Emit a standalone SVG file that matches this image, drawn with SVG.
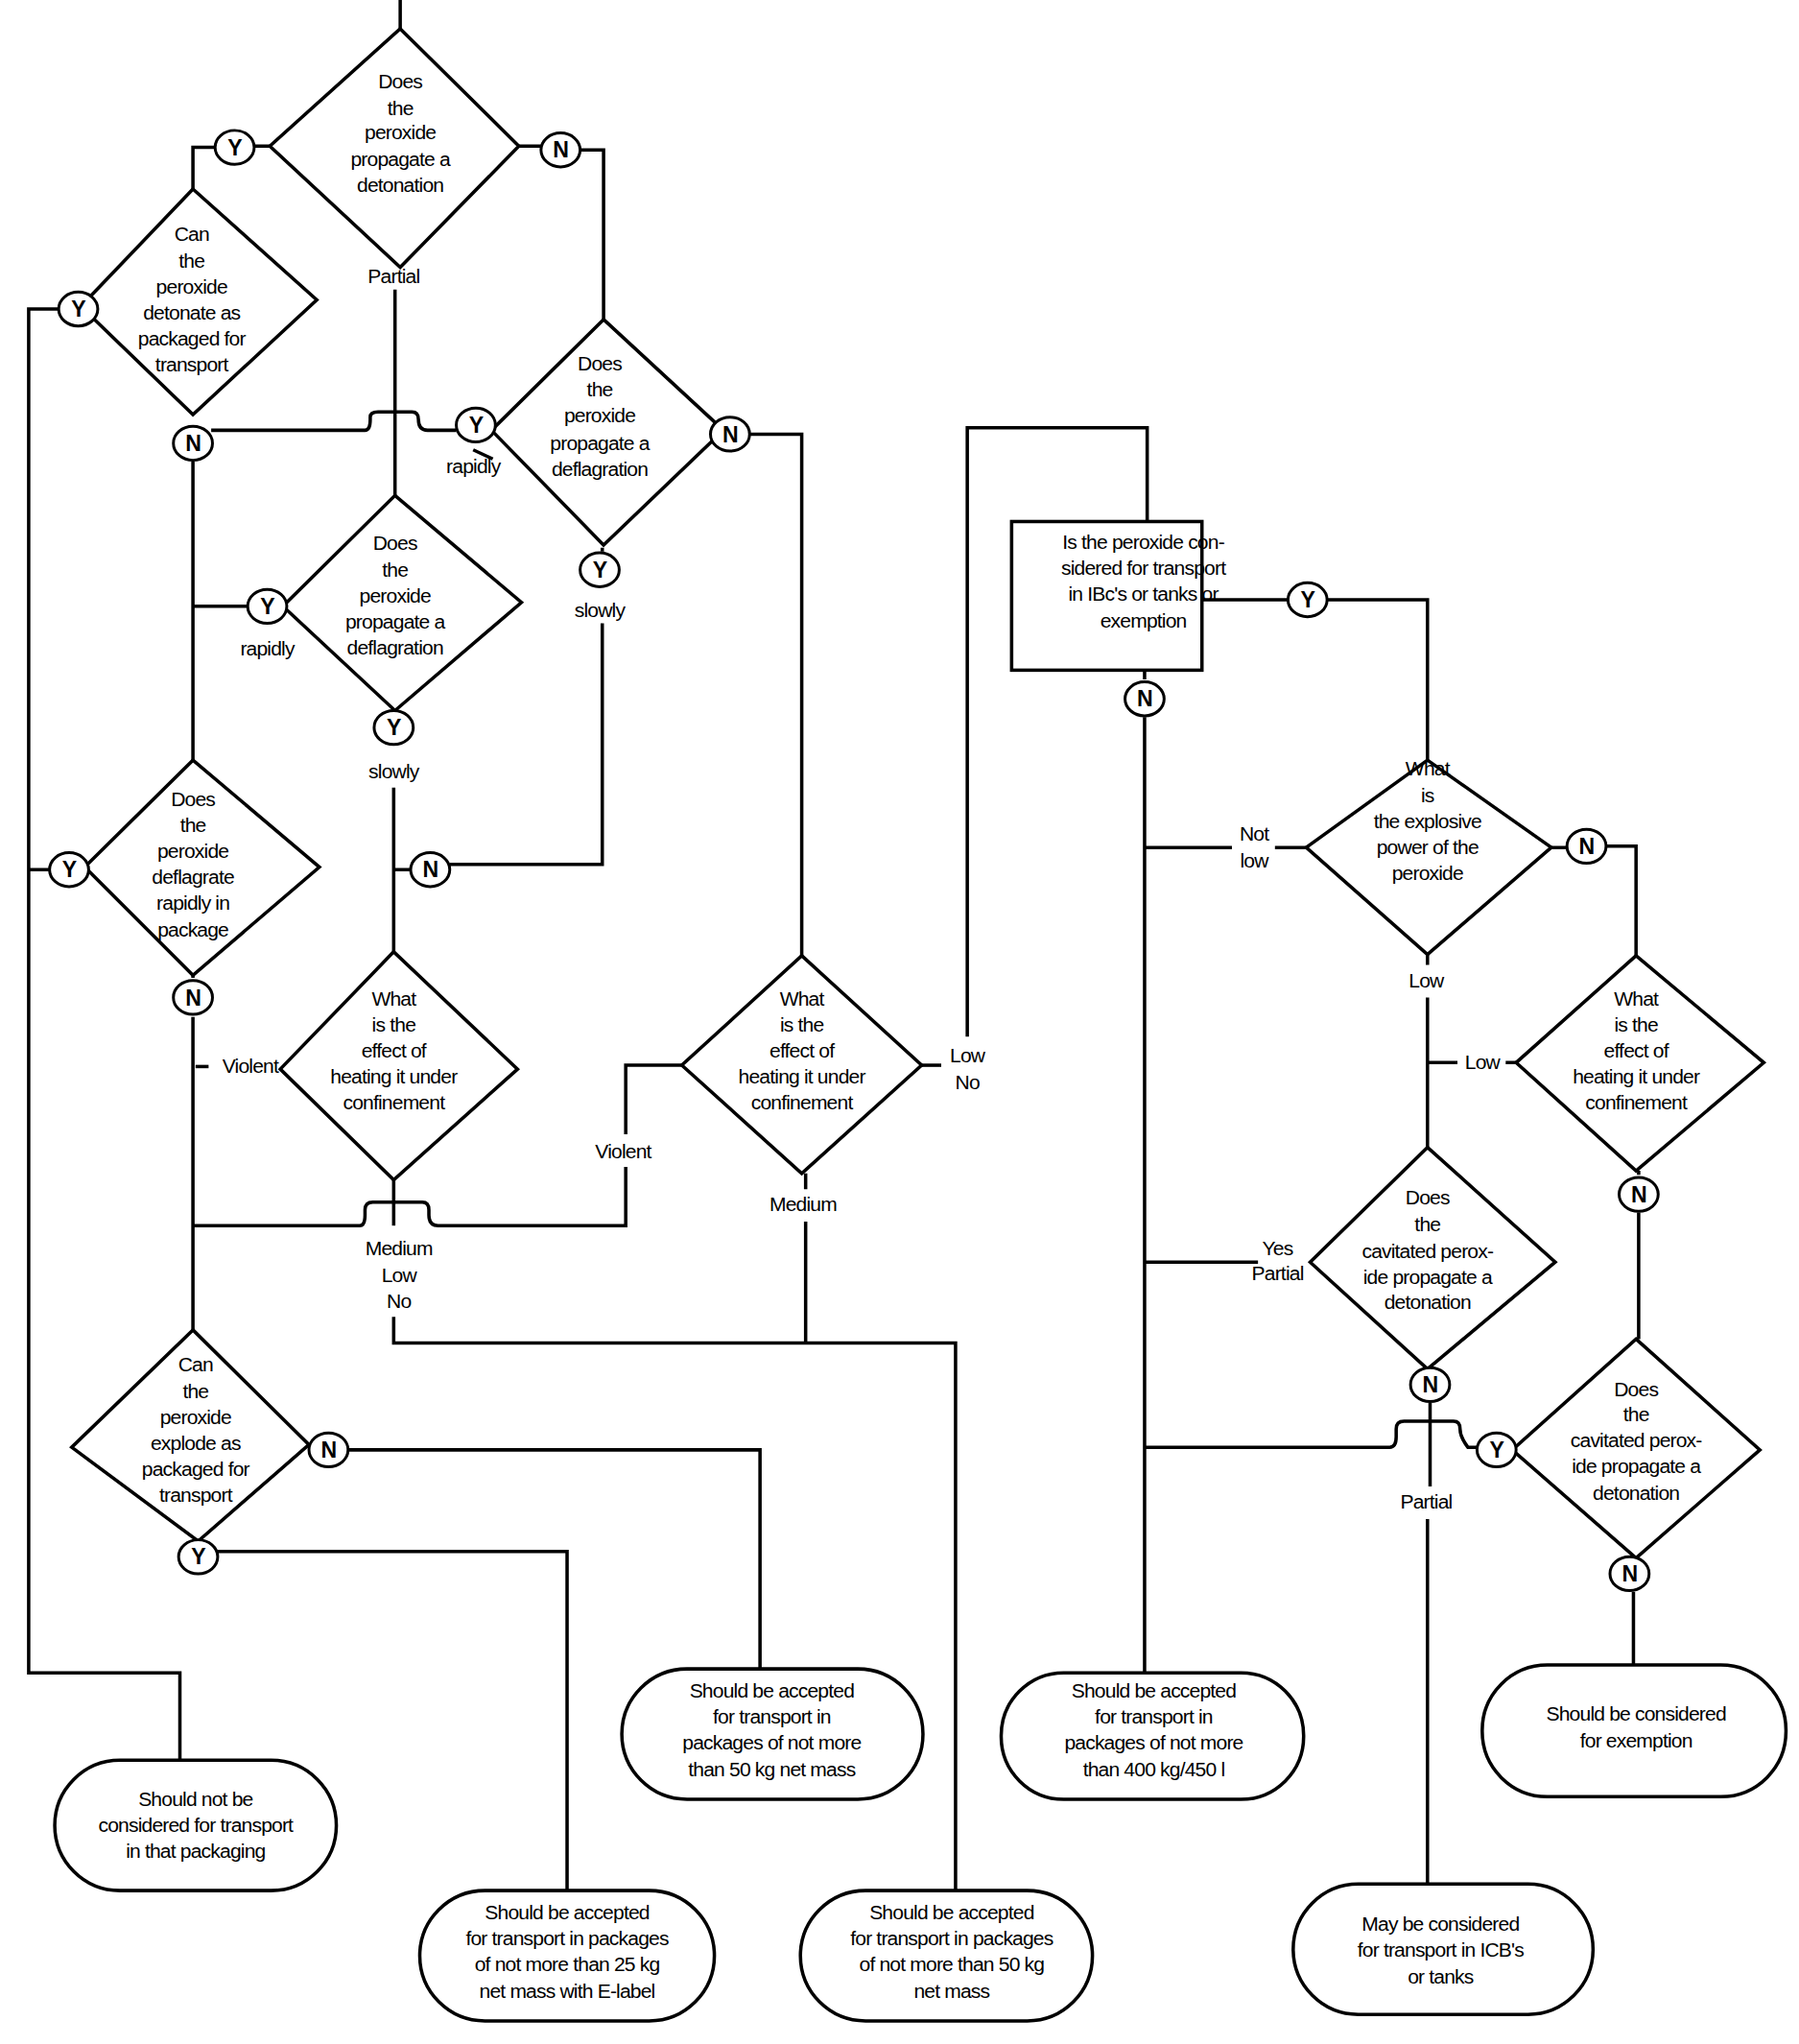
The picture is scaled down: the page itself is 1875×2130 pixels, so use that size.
<svg xmlns="http://www.w3.org/2000/svg" width="1875" height="2130" viewBox="0 0 1875 2130">
<style>
.s{fill:none;stroke:#000;stroke-width:2.6}
.b{fill:#fff;stroke:#000;stroke-width:2.6}
.c{fill:#fff;stroke:#000;stroke-width:2.2}
text{font-family:"Liberation Sans",Arial,sans-serif;font-size:15.5px;text-anchor:middle;letter-spacing:-0.6px;fill:#000}
.l{font-size:17px;font-weight:bold}
</style>
<rect width="1875" height="2130" fill="#fff"/>
<g transform="scale(1.3587)">
<g id="connectors" class="s">
<path d="M307 0V22"/>
<path d="M207 112H195M165 113H148V145"/>
<path d="M398 112H415M445 115H463V245"/>
<path d="M303 222V380"/>
<path d="M45 237H22V1283H138V1350"/>
<path d="M162 330H280Q284 330 284 322V320Q284 316 290 316H316Q321 316 321 322Q321 330 328 330H350"/>
<path d="M148 354V583"/>
<path d="M377 330H380M574 333H615V733"/>
<path d="M462 420V423M462 478V663H345"/>
<path d="M190 465H148"/>
<path d="M302 545V544M302 604V730M315 667H302"/>
<path d="M38 667H22"/>
<path d="M148 748V750M148 780V1020"/>
<path d="M150 818H160"/>
<path d="M148 940H276Q280 940 280 932V928Q280 922 286 922H324Q329 922 329 928V932Q329 940 336 940H480V895M480 870V817H523"/>
<path d="M302 905V940"/>
<path d="M302 1010V1030H733V1450"/>
<path d="M618 900V912M618 937V1030"/>
<path d="M707 817H722"/>
<path d="M742 795V328H880V400"/>
<path d="M922 460H988M1018 460H1095V583"/>
<path d="M878 514V521M878 550V1290"/>
<path d="M878 650H945M978 650H1002"/>
<path d="M1190 650H1202M1232 649H1255V733"/>
<path d="M1095 732V740M1095 765V880"/>
<path d="M1095 815H1118M1155 815H1163"/>
<path d="M1257 898V901M1257 930V1027"/>
<path d="M878 968H965"/>
<path d="M1097 1076V1140M1095 1165V1445"/>
<path d="M878 1110H1066Q1071 1110 1071 1102V1096Q1071 1090 1077 1090H1115Q1120 1090 1120 1096Q1120 1102 1126 1110H1133"/>
<path d="M1253 1221V1277"/>
<path d="M266 1112H583V1280"/>
<path d="M167 1190H435V1450"/>
<path d="M363 345L378 352"/>
</g>
<g id="d1"><polygon class="b" points="307,22 398,112 307,205 207,112"/>
<text x="307" y="68">Does</text><text x="307" y="88">the</text><text x="307" y="107">peroxide</text><text x="307" y="127">propagate a</text><text x="307" y="147">detonation</text></g>
<g id="d2"><polygon class="b" points="148,145 243,230 148,318 62,235"/>
<text x="147" y="185">Can</text><text x="147" y="205">the</text><text x="147" y="225">peroxide</text><text x="147" y="245">detonate as</text><text x="147" y="265">packaged for</text><text x="147" y="285">transport</text></g>
<g id="d3"><polygon class="b" points="463,245 555,330 463,418 377,330"/>
<text x="460" y="284">Does</text><text x="460" y="304">the</text><text x="460" y="324">peroxide</text><text x="460" y="345">propagate a</text><text x="460" y="365">deflagration</text></g>
<g id="d4"><polygon class="b" points="303,380 400,462 303,545 217,465"/>
<text x="303" y="422">Does</text><text x="303" y="442">the</text><text x="303" y="462">peroxide</text><text x="303" y="482">propagate a</text><text x="303" y="502">deflagration</text></g>
<g id="d5"><polygon class="b" points="148,583 245,665 148,748 65,665"/>
<text x="148" y="618">Does</text><text x="148" y="638">the</text><text x="148" y="658">peroxide</text><text x="148" y="678">deflagrate</text><text x="148" y="698">rapidly in</text><text x="148" y="718">package</text></g>
<g id="d6"><polygon class="b" points="302,730 397,820 302,905 215,820"/>
<text x="302" y="771">What</text><text x="302" y="791">is the</text><text x="302" y="811">effect of</text><text x="302" y="831">heating it under</text><text x="302" y="851">confinement</text></g>
<g id="d7"><polygon class="b" points="615,733 707,817 615,900 523,817"/>
<text x="615" y="771">What</text><text x="615" y="791">is the</text><text x="615" y="811">effect of</text><text x="615" y="831">heating it under</text><text x="615" y="851">confinement</text></g>
<g id="d8"><polygon class="b" points="148,1020 237,1108 152,1182 55,1110"/>
<text x="150" y="1052">Can</text><text x="150" y="1072">the</text><text x="150" y="1092">peroxide</text><text x="150" y="1112">explode as</text><text x="150" y="1132">packaged for</text><text x="150" y="1152">transport</text></g>
<g id="box"><rect class="b" x="776" y="400" width="146" height="114"/>
<text x="877" y="421">Is the peroxide con-</text><text x="877" y="441">sidered for transport</text><text x="877" y="461">in IBc's or tanks or</text><text x="877" y="481">exemption</text></g>
<g id="d9"><polygon class="b" points="1095,583 1190,650 1095,732 1002,650"/>
<text x="1095" y="595">What</text><text x="1095" y="615">is</text><text x="1095" y="635">the explosive</text><text x="1095" y="655">power of the</text><text x="1095" y="675">peroxide</text></g>
<g id="d10"><polygon class="b" points="1255,733 1353,815 1255,898 1163,815"/>
<text x="1255" y="771">What</text><text x="1255" y="791">is the</text><text x="1255" y="811">effect of</text><text x="1255" y="831">heating it under</text><text x="1255" y="851">confinement</text></g>
<g id="d11"><polygon class="b" points="1095,880 1193,968 1095,1050 1005,968"/>
<text x="1095" y="924">Does</text><text x="1095" y="944">the</text><text x="1095" y="965">cavitated perox-</text><text x="1095" y="985">ide propagate a</text><text x="1095" y="1004">detonation</text></g>
<g id="d12"><polygon class="b" points="1255,1027 1350,1112 1255,1195 1160,1112"/>
<text x="1255" y="1071">Does</text><text x="1255" y="1090">the</text><text x="1255" y="1110">cavitated perox-</text><text x="1255" y="1130">ide propagate a</text><text x="1255" y="1150">detonation</text></g>
<g id="t1"><rect class="b" x="42" y="1350" width="216" height="100" rx="50"/>
<text x="150" y="1385">Should not be</text><text x="150" y="1405">considered for transport</text><text x="150" y="1425">in that packaging</text></g>
<g id="t2"><rect class="b" x="322" y="1450" width="226" height="100" rx="50"/>
<text x="435" y="1472">Should be accepted</text><text x="435" y="1492">for transport in packages</text><text x="435" y="1512">of not more than 25 kg</text><text x="435" y="1532">net mass with E-label</text></g>
<g id="t3"><rect class="b" x="477" y="1280" width="231" height="100" rx="50"/>
<text x="592" y="1302">Should be accepted</text><text x="592" y="1322">for transport in</text><text x="592" y="1342">packages of not more</text><text x="592" y="1362">than 50 kg net mass</text></g>
<g id="t4"><rect class="b" x="614" y="1450" width="224" height="100" rx="50"/>
<text x="730" y="1472">Should be accepted</text><text x="730" y="1492">for transport in packages</text><text x="730" y="1512">of not more than 50 kg</text><text x="730" y="1532">net mass</text></g>
<g id="t5"><rect class="b" x="768" y="1283" width="232" height="97" rx="48"/>
<text x="885" y="1302">Should be accepted</text><text x="885" y="1322">for transport in</text><text x="885" y="1342">packages of not  more</text><text x="885" y="1362">than 400 kg/450 l</text></g>
<g id="t6"><rect class="b" x="992" y="1445" width="230" height="100" rx="50"/>
<text x="1105" y="1481">May be considered</text><text x="1105" y="1501">for transport in ICB's</text><text x="1105" y="1521">or tanks</text></g>
<g id="t7"><rect class="b" x="1137" y="1277" width="233" height="101" rx="50"/>
<text x="1255" y="1320">Should be considered</text><text x="1255" y="1340">for exemption</text></g>
<g id="markers">
<ellipse class="c" cx="180" cy="113" rx="15" ry="13"/><text class="l" x="180" y="119">Y</text>
<ellipse class="c" cx="430" cy="115" rx="15" ry="13"/><text class="l" x="430" y="121">N</text>
<ellipse class="c" cx="60" cy="237" rx="15" ry="13"/><text class="l" x="60" y="243">Y</text>
<ellipse class="c" cx="148" cy="340" rx="15" ry="13"/><text class="l" x="148" y="346">N</text>
<ellipse class="c" cx="365" cy="326" rx="15" ry="13"/><text class="l" x="365" y="332">Y</text>
<ellipse class="c" cx="560" cy="333" rx="15" ry="13"/><text class="l" x="560" y="339">N</text>
<ellipse class="c" cx="460" cy="437" rx="15" ry="13"/><text class="l" x="460" y="443">Y</text>
<ellipse class="c" cx="205" cy="465" rx="15" ry="13"/><text class="l" x="205" y="471">Y</text>
<ellipse class="c" cx="302" cy="558" rx="15" ry="13"/><text class="l" x="302" y="564">Y</text>
<ellipse class="c" cx="330" cy="667" rx="15" ry="13"/><text class="l" x="330" y="673">N</text>
<ellipse class="c" cx="53" cy="667" rx="15" ry="13"/><text class="l" x="53" y="673">Y</text>
<ellipse class="c" cx="148" cy="765" rx="15" ry="13"/><text class="l" x="148" y="771">N</text>
<ellipse class="c" cx="252" cy="1112" rx="15" ry="13"/><text class="l" x="252" y="1118">N</text>
<ellipse class="c" cx="152" cy="1194" rx="15" ry="13"/><text class="l" x="152" y="1200">Y</text>
<ellipse class="c" cx="1003" cy="460" rx="15" ry="13"/><text class="l" x="1003" y="466">Y</text>
<ellipse class="c" cx="878" cy="536" rx="15" ry="13"/><text class="l" x="878" y="542">N</text>
<ellipse class="c" cx="1217" cy="649" rx="15" ry="13"/><text class="l" x="1217" y="655">N</text>
<ellipse class="c" cx="1257" cy="916" rx="15" ry="13"/><text class="l" x="1257" y="922">N</text>
<ellipse class="c" cx="1097" cy="1062" rx="15" ry="13"/><text class="l" x="1097" y="1068">N</text>
<ellipse class="c" cx="1148" cy="1112" rx="15" ry="13"/><text class="l" x="1148" y="1118">Y</text>
<ellipse class="c" cx="1250" cy="1207" rx="15" ry="13"/><text class="l" x="1250" y="1213">N</text>
</g>
<g id="labels">
<text x="302" y="217">Partial</text>
<text x="363" y="363">rapidly</text>
<text x="460" y="473">slowly</text>
<text x="205" y="503">rapidly</text>
<text x="302" y="597">slowly</text>
<text x="192" y="823">Violent</text>
<text x="478" y="888">Violent</text>
<text x="306" y="963">Medium</text><text x="306" y="983">Low</text><text x="306" y="1003">No</text>
<text x="616" y="929">Medium</text>
<text x="742" y="815">Low</text><text x="742" y="835">No</text>
<text x="962" y="645">Not</text><text x="962" y="665">low</text>
<text x="1094" y="757">Low</text>
<text x="1137" y="820">Low</text>
<text x="980" y="963">Yes</text><text x="980" y="982">Partial</text>
<text x="1094" y="1157">Partial</text>
</g>
</g>
</svg>
